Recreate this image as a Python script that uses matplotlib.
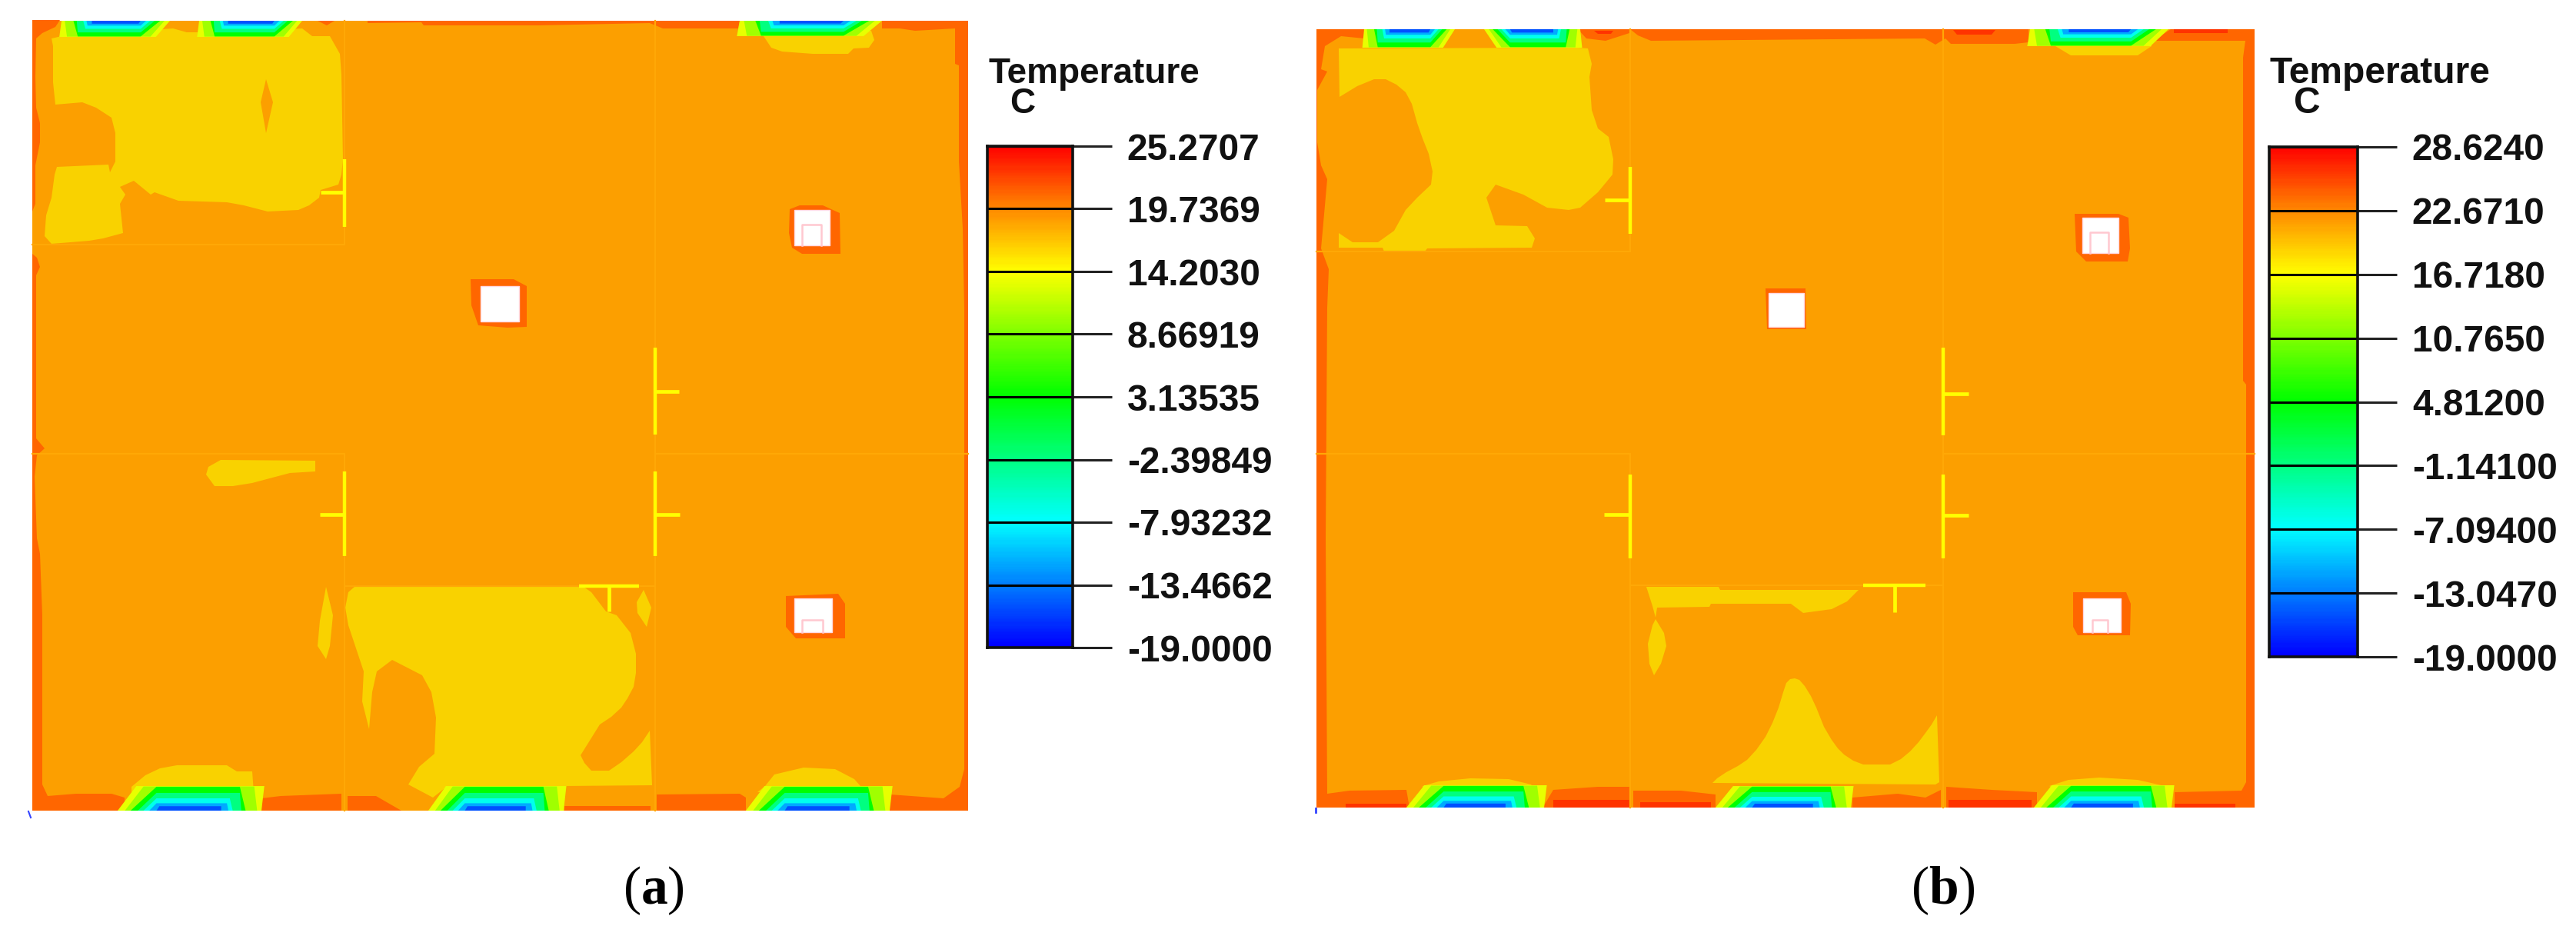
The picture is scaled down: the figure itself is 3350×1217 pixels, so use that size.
import numpy as np
import matplotlib
matplotlib.use("Agg")
import matplotlib.pyplot as plt
from matplotlib.colors import LinearSegmentedColormap

W, H = 3350, 1217

ORANGE = "#FC9F00"
WALL = "#FFA806"
AMBER = "#F9D200"
HOT = "#FF6600"
RED = "#FF3300"
LINE = "#FFFF00"
PINK = "#FFC8D0"

# colour bar values
levels_a = [-19.0, -13.4662, -7.93232, -2.39849, 3.13535, 8.66919, 14.2030, 19.7369, 25.2707]
labels_a = ["-19.0000", "-13.4662", "-7.93232", "-2.39849", "3.13535", "8.66919", "14.2030", "19.7369", "25.2707"]
levels_b = [-19.0, -13.047, -7.094, -1.141, 4.812, 10.765, 16.718, 22.671, 28.624]
labels_b = ["-19.0000", "-13.0470", "-7.09400", "-1.14100", "4.81200", "10.7650", "16.7180", "22.6710", "28.6240"]
bar_colors = ["#0000FF", "#0080FF", "#00FFFF", "#00FF80", "#00FF00", "#80FF00", "#FFFF00", "#FF8800", "#FF0000"]

# contour regions of panel (a), in picture pixels
a_hot = [
    [(42,26),(78,26),(72,35),(55,43),(47,50),(46,100),(47,140),(52,160),(52,185),(46,215),(46,265),(42,275),
     (42,330),(48,335),(52,347),(47,358),(47,570),(58,583),(48,592),(45,620),(48,700),(52,720),(55,800),
     (55,1020),(62,1035),(99,1032),(145,1032),(162,1037),(162,1054),(42,1054)],
    [(340,1038),(365,1035),(444,1032),(444,1054),(340,1054)],
    [(452,1035),(489,1035),(522,1054),(452,1054)],
    [(734,1048),(846,1048),(846,1054),(734,1054)],
    [(854,1033),(962,1032),(970,1037),(970,1054),(854,1054)],
    [(1157,1033),(1227,1038),(1248,1023),(1248,1054),(1157,1054)],
    [(413,27),(435,27),(425,33)],
    [(478,27),(962,27),(960,37),(862,37),(845,30),(700,33),(551,33),(548,29),(478,30)],
    [(1147,27),(1259,27),(1259,1054),(1248,1054),(1248,1023),(1254,1000),(1254,400),(1252,297),(1247,210),
     (1247,85),(1242,83),(1242,37),(1190,40),(1170,37),(1147,37)],
]
a_amber = [
    [(67,50),(89,45),(225,37),(243,42),(259,42),(393,37),(406,47),(429,47),(442,70),(444,97),(446,207),(444,227),
     (440,240),(417,247),(415,257),(402,267),(388,273),(348,275),(317,267),(295,263),(232,261),(201,250),(196,253),
     (174,235),(156,243),(163,253),(156,265),(160,303),(134,310),(116,313),(67,317),(58,307),(60,280),(67,257),
     (71,227),(74,217),(141,214),(143,224),(150,210),(150,173),(145,153),(125,140),(107,133),(72,136),(69,107),(69,60)],
    [(287,598),(410,599),(410,613),(377,615),(328,628),(303,632),(279,632),(268,617),(271,607)],
    [(461,763),(759,763),(769,770),(788,795),(802,800),(820,823),(827,850),(827,875),(824,893),(816,908),(808,920),
     (795,932),(780,942),(770,958),(755,982),(760,992),(769,1002),(792,1002),(808,991),(824,977),(835,965),(845,950),
     (848,1021),(735,1022),(582,1022),(563,1037),(531,1020),(545,997),(565,980),(567,933),(561,900),(549,878),(510,858),
     (490,873),(484,900),(480,948),(471,912),(473,873),(453,813),(449,790),(453,770)],
    [(424,763),(433,800),(429,840),(424,857),(413,840),(416,807)],
    [(837,767),(847,790),(841,815),(829,797),(828,783)],
    [(171,1030),(171,1023),(189,1008),(208,999),(230,995),(295,995),(308,1003),(328,1003),(330,1030)],
    [(985,1030),(995,1022),(1007,1007),(1045,998),(1086,1000),(1111,1013),(1119,1022),(1125,1030)],
    [(993,40),(993,47),(1003,62),(1017,67),(1057,70),(1103,70),(1110,63),(1130,62),(1137,52),(1133,40)],
]
a_holes = [
    [(346,103),(355,133),(346,173),(339,133)],
    [(225,27),(243,42),(259,42),(259,27)],
]
a_red = [[(203,1050),(286,1050),(286,1054),(203,1054)]]
# left, right, edge row, depth (negative = from the top), flipped
a_vents = [(80,221,27,21,1),(259,393,27,21,1),(962,1147,27,20,1),(153,340,1054,-32,0),(557,733,1054,-32,0),(970,1157,1054,-32,0)]
# wall x, y from, y to, tick y, tick x
a_walls = [(448,207,295,250,417),(852,452,565,509,883),(448,613,723,669,416),(852,613,723,669,884)]
a_tee = (753,831,762,792,795)
a_faint_h = [(42,448,318),(42,448,590),(852,1259,590),(448,852,762)]
a_faint_v = [(448,27,318),(448,590,1054),(852,27,1054)]
# red surround of each opening, then white opening, then inner rectangle
a_rooms = [
    ([(612,363),(668,363),(685,372),(685,425),(660,426),(622,423),(613,397)], (625,675,372,418), None),
    ([(1027,272),(1040,267),(1070,267),(1092,277),(1093,330),(1043,330),(1030,322),(1026,303)], (1033,1079,273,319), (1043,1068,292,319)),
    ([(1022,775),(1090,772),(1099,785),(1099,830),(1035,830),(1022,815)], (1033,1082,778,822), (1043,1070,806,822)),
]

# contour regions of panel (b)
b_hot = [
    [(1712,38),(1774,38),(1774,50),(1744,47),(1723,60),(1718,90),(1726,93),(1713,117),(1713,185),(1718,215),(1726,233),
     (1723,267),(1718,323),(1728,350),(1726,400),(1724,700),(1726,1032),(1755,1028),(1829,1027),(1833,1050),(1712,1050)],
    [(2052,38),(2119,38),(2119,43),(2088,53),(2063,50)],
    [(2120,38),(2638,38),(2638,55),(2620,57),(2537,57),(2530,50),(2517,58),(2503,50),(2147,53),(2130,46)],
    [(2823,38),(2932,38),(2932,1050),(2828,1050),(2828,1030),(2915,1028),(2921,1017),(2921,500),(2917,495),(2917,75),(2920,53),(2800,53)],
    [(2008,1050),(2008,1047),(2020,1027),(2078,1023),(2119,1023),(2119,1050)],
    [(2124,1028),(2186,1028),(2231,1033),(2231,1050),(2124,1050)],
    [(2409,1037),(2468,1032),(2504,1037),(2524,1027),(2524,1050),(2409,1050)],
    [(2531,1023),(2590,1027),(2649,1030),(2649,1050),(2531,1050)],
]
b_amber = [
    [(1741,63),(2052,62),(2065,63),(2070,83),(2067,100),(2070,143),(2078,167),(2092,178),(2098,207),(2097,227),(2078,250),
     (2055,270),(2040,273),(2012,270),(1981,253),(1945,240),(1933,257),(1945,293),(1986,294),(1996,310),(1992,322),
     (1856,323),(1853,327),(1800,327),(1798,322),(1741,322),(1741,303),(1759,315),(1792,315),(1813,300),(1828,273),
     (1843,257),(1861,240),(1863,223),(1858,200),(1850,180),(1843,160),(1836,135),(1828,120),(1816,110),(1802,103),
     (1787,103),(1765,112),(1742,126)],
    [(2141,763),(2235,763),(2237,767),(2417,767),(2402,782),(2382,792),(2345,797),(2329,785),(2225,785),(2223,789),(2155,790),(2153,803),(2149,788)],
    [(2153,805),(2164,823),(2167,840),(2160,863),(2151,878),(2145,863),(2143,837),(2149,813)],
    [(2227,1018),(2233,1012),(2245,1004),(2260,996),(2272,988),(2284,975),(2296,958),(2305,940),(2313,920),(2319,900),
     (2323,888),(2328,883),(2334,882),(2340,884),(2347,892),(2355,905),(2362,920),(2372,945),(2382,962),(2390,973),
     (2398,981),(2410,989),(2423,994),(2458,994),(2472,987),(2484,977),(2495,965),(2504,953),(2512,942),(2519,930),
     (2522,1017),(2517,1020)],
    [(1850,1030),(1850,1022),(1871,1016),(1912,1012),(1962,1013),(1991,1020),(2000,1030)],
    [(2680,1030),(2665,1022),(2690,1014),(2730,1011),(2780,1014),(2815,1022),(2815,1030)],
    [(2673,50),(2673,60),(2693,72),(2780,72),(2798,60),(2798,50)],
]
b_holes = [[(1897,39),(1920,58),(1927,58),(1933,42)]]
b_red = [
    [(1750,1045),(1829,1045),(1829,1050),(1750,1050)],
    [(2020,1040),(2119,1040),(2119,1050),(2020,1050)],
    [(2133,1043),(2225,1043),(2225,1050),(2133,1050)],
    [(2534,1040),(2642,1040),(2642,1050),(2534,1050)],
    [(2828,1045),(2907,1045),(2907,1050),(2828,1050)],
    [(2540,39),(2595,39),(2590,45),(2545,45)],
    [(2827,38),(2897,38),(2897,43),(2827,43)],
    [(2073,40),(2098,40),(2095,44),(2078,44)],
]
b_vents = [(1774,1892,38,24,1),(1930,2055,38,24,0),(2640,2820,38,22,1),(1829,2008,1050,-29,0),(2231,2407,1050,-28,0),(2645,2824,1050,-29,0)]
b_walls = [(2120,217,304,260,2087),(2527,452,566,512,2560),(2120,617,726,669,2086),(2527,617,726,670,2560)]
b_tee = (2423,2504,761,2464,796)
b_faint_h = [(1712,2120,327),(1712,2120,590),(2527,2932,590),(2120,2527,761)]
b_faint_v = [(2120,38,327),(2120,590,1050),(2527,38,1050)]
b_rooms = [
    ([(2296,375),(2348,375),(2349,428),(2298,428)], (2300,2346,381,425), None),
    ([(2698,278),(2755,278),(2768,283),(2770,323),(2767,340),(2713,340),(2700,327)], (2708,2755,283,329), (2718,2742,302,329)),
    ([(2696,770),(2765,770),(2771,785),(2770,826),(2702,826),(2696,815)], (2709,2758,778,822), (2721,2741,806,822)),
]

# nested bands of a vent: colour, edge left, far left, far right, edge right, depth (fractions)
vent_bands = [
    ("#E8FF00", 0.00, 0.13, 1.02, 1.00, 1.00),
    ("#A0FF00", 0.05, 0.18, 0.95, 0.97, 0.98),
    ("#00FF00", 0.09, 0.27, 0.85, 0.89, 0.97),
    ("#00FF80", 0.14, 0.27, 0.85, 0.86, 0.72),
    ("#00FFEE", 0.18, 0.27, 0.78, 0.80, 0.50),
    ("#00AAFF", 0.22, 0.27, 0.76, 0.77, 0.30),
    ("#0050FF", 0.27, 0.29, 0.72, 0.72, 0.18),
]


def fill_all(ax, polys, color, z):
    for p in polys:
        xs, ys = zip(*p)
        ax.fill(xs, ys, color=color, lw=0, zorder=z)


def draw_vents(ax, vents):
    for left, right, edge, depth, flip in vents:
        w = right - left
        for c, l0, l1, r1, r0, d in vent_bands:
            fr = [l0, l1, r1, r0]
            if flip:
                fr = [1 - r0, 1 - r1, 1 - l1, 1 - l0]
            xs = [left + f * w for f in fr]
            ys = [edge, edge + depth * d, edge + depth * d, edge]
            ax.fill(xs, ys, color=c, lw=0, zorder=4)


def draw_panel(ax, box, hot, amber, holes, red, vents, walls, tee, faint_h, faint_v, rooms):
    x0, x1, y0, y1 = box
    ax.fill([x0, x1, x1, x0], [y0, y0, y1, y1], color=ORANGE, lw=0, zorder=1)
    fill_all(ax, hot, HOT, 2)
    fill_all(ax, amber, AMBER, 3)
    fill_all(ax, holes, ORANGE, 3.5)
    fill_all(ax, red, RED, 3.7)
    draw_vents(ax, vents)
    for a, b, y in faint_h:
        ax.plot([a, b], [y, y], color=WALL, lw=1.6, zorder=3.8)
    for x, a, b in faint_v:
        ax.plot([x, x], [a, b], color=WALL, lw=1.6, zorder=3.8)
    for x, a, b, ty, tx in walls:
        ax.plot([x, x], [a, b], color=LINE, lw=3.2, zorder=5, solid_capstyle="butt")
        ax.plot([x, tx], [ty, ty], color=LINE, lw=3.4, zorder=5, solid_capstyle="butt")
    a, b, y, x, y2 = tee
    ax.plot([a, b], [y, y], color=LINE, lw=3.2, zorder=5, solid_capstyle="butt")
    ax.plot([x, x], [y, y2], color=LINE, lw=3.4, zorder=5, solid_capstyle="butt")
    for surround, hole, inner in rooms:
        fill_all(ax, [surround], HOT, 6)
        l, r, t, bt = hole
        ax.fill([l, r, r, l], [t, t, bt, bt], color="white", ec="#FFD8E0", lw=1, zorder=7)
        if inner:
            l, r, t, bt = inner
            ax.plot([l, l, r, r], [bt, t, t, bt], color=PINK, lw=1.8, zorder=8)


def draw_bar(fig, box, levels, labels, cmap):
    x0, x1, y0, y1 = box
    cax = fig.add_axes([x0 / W, 1 - y1 / H, (x1 - x0) / W, (y1 - y0) / H])
    vals = np.linspace(levels[0], levels[-1], 300)
    norm = plt.Normalize(levels[0], levels[-1])
    cax.pcolormesh([0, 1], vals, np.column_stack([vals[:-1]]), cmap=cmap, norm=norm, shading="flat")
    cax.hlines(levels, 0, 1, color="black", lw=2.2)
    cax.set_xlim(0, 1)
    cax.set_ylim(levels[0], levels[-1])
    cax.set_xticks([])
    cax.yaxis.tick_right()
    cax.set_yticks(levels)
    cax.set_yticklabels(labels, family="Liberation Sans", weight="bold", fontsize=34.5, color="#111111")
    cax.tick_params(axis="y", length=37, width=2.2, pad=14, color="#222222")
    for s in cax.spines.values():
        s.set_linewidth(2.6)
        s.set_color("#111111")
    return cax


plt.rcParams["mathtext.fontset"] = "custom"
plt.rcParams["mathtext.rm"] = "Liberation Serif"
plt.rcParams["mathtext.bf"] = "Liberation Serif:bold"

fig = plt.figure(figsize=(W / 100, H / 100), dpi=100, facecolor="white")
ax = fig.add_axes([0, 0, 1, 1])
ax.set_xlim(0, W)
ax.set_ylim(H, 0)
ax.axis("off")

draw_panel(ax, (42, 1259, 27, 1054), a_hot, a_amber, a_holes, a_red, a_vents, a_walls, a_tee, a_faint_h, a_faint_v, a_rooms)
draw_panel(ax, (1712, 2932, 38, 1050), b_hot, b_amber, b_holes, b_red, b_vents, b_walls, b_tee, b_faint_h, b_faint_v, b_rooms)

# small corner marks under the panels
ax.plot([37, 40], [1055, 1063], color="#3344FF", lw=1.5)
ax.plot([1711, 1711], [1051, 1056], color="#3344FF", lw=2)

cmap = LinearSegmentedColormap.from_list("bar", bar_colors)
draw_bar(fig, (1284, 1395, 190, 842), levels_a, labels_a, cmap)
draw_bar(fig, (2951, 3066, 191, 854), levels_b, labels_b, cmap)

for x, cx, size in [(1285, 1313, 33), (2952, 2983, 34.5)]:
    ax.text(x, 108, "Temperature", family="Liberation Sans", weight="bold", fontsize=size, color="#111111", va="baseline")
    ax.text(cx, 147, "C", family="Liberation Sans", weight="bold", fontsize=size, color="#111111", va="baseline")

for cx, s in [(850, "a"), (2527, "b")]:
    ax.text(cx, 1158, "($\\mathbf{%s}$)" % s, family="Liberation Serif", fontsize=50, color="black", ha="center", va="center")

fig.savefig("out.png", dpi=100, facecolor="white")
